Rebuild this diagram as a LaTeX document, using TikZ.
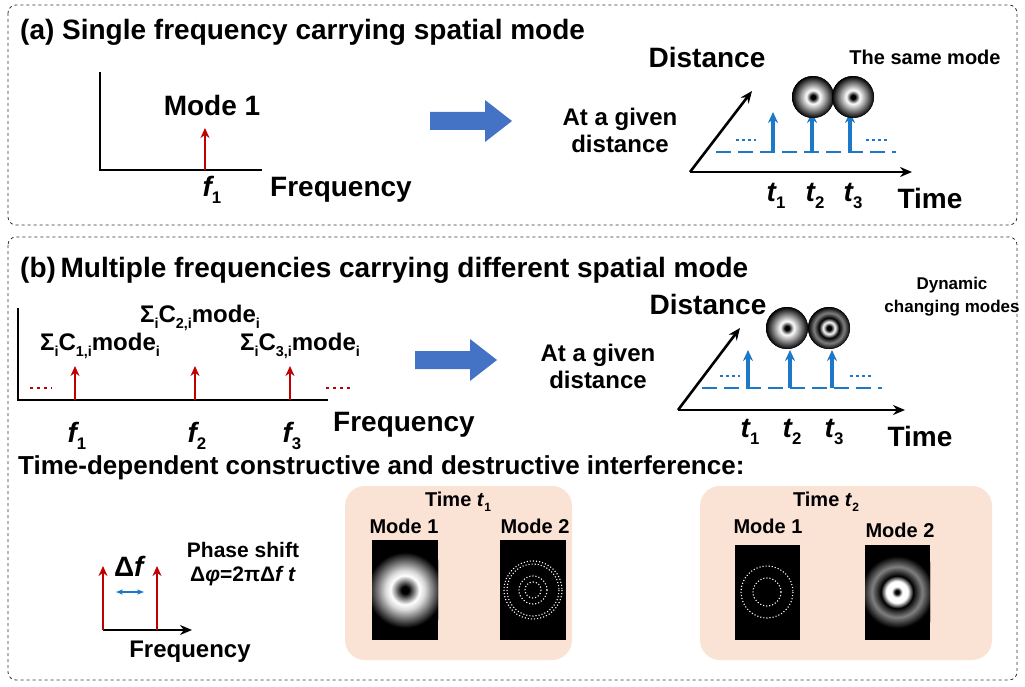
\documentclass[tikz,border=0pt]{standalone}
\usepackage{fontspec}
\setmainfont{Liberation Sans}
\usetikzlibrary{arrows.meta}
\newcommand\sbs[1]{\raisebox{-0.45ex}{\fontsize{0.6em}{0.6em}\selectfont #1}}
\definecolor{aBlue}{RGB}{68,114,196}
\definecolor{tBlue}{RGB}{30,120,200}
\definecolor{aRed}{RGB}{192,0,0}
\definecolor{peach}{RGB}{250,226,212}
\pgfdeclareradialshading{small1}{\pgfpoint{0bp}{0bp}}{color(0bp)=(black);color(2.5bp)=(black);color(8bp)=(white);color(25bp)=(black);color(50bp)=(black)}
\pgfdeclareradialshading{small2}{\pgfpoint{0bp}{0bp}}{color(0bp)=(black);color(2.5bp)=(black);color(7bp)=(white);color(12bp)=(black);color(18bp)=(gray);color(25bp)=(black);color(50bp)=(black)}
\pgfdeclareradialshading{donut}{\pgfpoint{0bp}{0bp}}{color(0bp)=(black);color(2bp)=(black);color(8bp)=(white);color(11bp)=(white!85!black);color(21bp)=(black);color(50bp)=(black)}
\pgfdeclareradialshading{lg}{\pgfpoint{0bp}{0bp}}{color(0bp)=(black);color(1bp)=(black);color(3bp)=(white);color(6bp)=(white);color(9bp)=(black);color(14bp)=(gray);color(20bp)=(black);color(50bp)=(black)}
\begin{document}
\begin{tikzpicture}[x=1pt,y=-1pt,
  txt/.style={font=\bfseries\fontsize{28}{30}\selectfont,inner sep=0pt,align=center},
  mtxt/.style={font=\bfseries\fontsize{24}{27}\selectfont,inner sep=0pt,align=center},
  stxt/.style={font=\bfseries\fontsize{20}{22}\selectfont,inner sep=0pt,align=center},
  frame/.style={draw=black!80,dashed,rounded corners=8pt,line width=0.8pt},
  ax/.style={-{Stealth[length=12pt,width=10pt]},line width=2.6pt},
  redarr/.style={aRed,-{Stealth[length=10pt,width=9pt]},line width=2.6pt},
  bluearr/.style={tBlue,-{Stealth[length=11pt,width=10pt]},line width=3.2pt},
  bigarrow/.style={fill=aBlue,draw=none},
  base/.style={tBlue,dash pattern=on 15pt off 7pt,line width=2.2pt},
  dots/.style={tBlue,line width=2.5pt,dash pattern=on 2.5pt off 3.5pt},
  peachbox/.style={fill=peach,draw=none,rounded corners=20pt},
  ring/.style={white,dotted,line width=1.1pt}]
\useasboundingbox (0,0) rectangle (1025,687);
\draw[frame] (8,5) rectangle (1017,225);
\draw[frame] (8,237) rectangle (1017,680);
% ---- panel a
\node[txt,anchor=west] (ta) at (20,32) {(a)\ Single frequency carrying spatial mode};
\coordinate (ao) at (100,170);
\coordinate (ay) at (100,72);
\coordinate (ax) at (262,170);
\draw[line width=2.4pt] (ay) -- (ao) -- (ax);
\coordinate (f1b) at (205,170);
\coordinate (f1t) at (205,128);
\draw[redarr] (f1b) -- (f1t);
\node[txt] (m1) at (212,105) {Mode 1};
\node[txt] (f1) at (212,190) {\itshape f\sbs{\upshape 1}};
\node[txt,anchor=west] (fq) at (270,190) {Frequency};
\fill[bigarrow] (430,112) -- (485,112) -- (485,100) -- (512,121) -- (485,142) -- (485,130) -- (430,130) -- cycle;
\node[mtxt] (agd) at (620,130) {At a given\\distance};
\coordinate (to) at (690,172);
\coordinate (td) at (752,91);
\coordinate (tt) at (912,172);
\draw[ax] (to) -- (td);
\draw[ax] (to) -- (tt);
\coordinate (bl1) at (716,152); \coordinate (bl2) at (896,152);
\draw[base] (bl1) -- (bl2);
\coordinate (d1a) at (736,140); \coordinate (d1b) at (756,140);
\coordinate (d2a) at (866,140); \coordinate (d2b) at (890,140);
\draw[dots] (d1a) -- (d1b);
\draw[dots] (d2a) -- (d2b);
\foreach \x/\n in {773/1,812/2,850/3}{
  \coordinate (ab\n) at (\x,152); \coordinate (at\n) at (\x,112);
  \draw[bluearr] (ab\n) -- (at\n);
  \node[txt] (tl\n) at (\x+3,196) {\itshape t\sbs{\upshape \n}};}
\foreach \x/\n in {813/1,853/2}{\fill[shading=small1] (\x,97) circle (21);}
\node[txt] (dist) at (707,57) {Distance};
\node[stxt] (same) at (925,57) {The same mode};
\node[txt] (time) at (930,198) {Time};
% ---- panel b
\node[txt,anchor=west] (tb) at (20,270) {(b)\,Multiple frequencies carrying different spatial mode};
\coordinate (bo) at (18,400); \coordinate (by) at (18,308); \coordinate (bx) at (328,400);
\draw[line width=2.4pt] (by) -- (bo) -- (bx);
\foreach \x/\n in {75/1,195/2,290/3}{
  \coordinate (rb\n) at (\x,400); \coordinate (rt\n) at (\x,366);
  \draw[redarr] (rb\n) -- (rt\n);
  \node[txt] (fb\n) at (\x+2,436) {\itshape f\sbs{\upshape \n}};}
\coordinate (rd1a) at (30,388); \coordinate (rd1b) at (52,388);
\coordinate (rd2a) at (326,388); \coordinate (rd2b) at (350,388);
\draw[aRed,line width=2.5pt,dash pattern=on 3pt off 4pt] (rd1a) -- (rd1b);
\draw[aRed,line width=2.5pt,dash pattern=on 3pt off 4pt] (rd2a) -- (rd2b);
\node[mtxt] (c1) at (100,346) {Σ\sbs{i}C\sbs{1,i}mode\sbs{i}};
\node[mtxt] (c2) at (200,318) {Σ\sbs{i}C\sbs{2,i}mode\sbs{i}};
\node[mtxt] (c3) at (300,346) {Σ\sbs{i}C\sbs{3,i}mode\sbs{i}};
\node[txt,anchor=west] (fqb) at (333,425) {Frequency};
\fill[bigarrow] (415,351) -- (470,351) -- (470,339) -- (497,360) -- (470,381) -- (470,369) -- (415,369) -- cycle;
\node[mtxt] (agdb) at (598,366) {At a given\\distance};
\coordinate (uo) at (678,410); \coordinate (ud) at (740,328); \coordinate (ut) at (905,410);
\draw[ax] (uo) -- (ud);
\draw[ax] (uo) -- (ut);
\coordinate (bl3) at (702,388); \coordinate (bl4) at (882,388);
\draw[base] (bl3) -- (bl4);
\coordinate (d3a) at (720,376); \coordinate (d3b) at (740,376);
\coordinate (d4a) at (850,376); \coordinate (d4b) at (872,376);
\draw[dots] (d3a) -- (d3b);
\draw[dots] (d4a) -- (d4b);
\foreach \x/\n in {748/1,790/2,832/3}{
  \coordinate (bb\n) at (\x,388); \coordinate (bt\n) at (\x,350);
  \draw[bluearr] (bb\n) -- (bt\n);
  \node[txt] (ul\n) at (\x+2,432) {\itshape t\sbs{\upshape \n}};}
\fill[shading=small1] (787,328) circle (21);
\fill[shading=small2] (829,328) circle (21);
\node[txt] (distb) at (708,304) {Distance};
\node[stxt,font=\bfseries\fontsize{17}{23}\selectfont] (dyn) at (952,297) {Dynamic\\changing modes};
\node[txt] (timeb) at (920,436) {Time};
\node[txt,anchor=west,font=\bfseries\fontsize{26}{28}\selectfont] (ti) at (18,468) {Time-dependent constructive and destructive interference:};
% small frequency diagram
\coordinate (so) at (103,630); \coordinate (sx) at (192,630);
\draw[ax] (so) -- (sx);
\coordinate (s1t) at (103,566); \coordinate (s2b) at (157,630); \coordinate (s2t) at (157,566);
\draw[redarr] (so) -- (s1t);
\draw[redarr] (s2b) -- (s2t);
\coordinate (da) at (116,592); \coordinate (db) at (144,592);
\draw[tBlue,{Stealth[length=7pt]}-{Stealth[length=7pt]},line width=2.8pt] (da) -- (db);
\node[txt] (df) at (130,566) {Δ\textit{f}};
\node[stxt,font=\bfseries\fontsize{21}{24}\selectfont] (ps) at (243,564) {Phase shift\\Δ\textit{φ}=2πΔ\textit{f t}};
\node[mtxt] (sfq) at (190,652) {Frequency};
% peach boxes
\fill[peachbox] (345,486) rectangle (572,660);
\fill[peachbox] (700,486) rectangle (992,660);
\node[stxt] (t1) at (458,502) {Time \textit{t}\sbs{\upshape 1}};
\node[stxt] (bm1) at (404,526) {Mode 1};
\node[stxt] (bm2) at (535,526) {Mode 2};
\node[stxt] (t2) at (826,502) {Time \textit{t}\sbs{\upshape 2}};
\node[stxt] (cm1) at (768,526) {Mode 1};
\node[stxt] (cm2) at (900,530) {Mode 2};
% images
\fill[black] (372,540) rectangle (438,640);
\begin{scope}
\clip (372,540) rectangle (438,640);
\fill[shading=donut] (405,590) circle (45);
\end{scope}
\fill[black] (500,540) rectangle (566,640);
\draw[ring] (533,590) circle (29);
\draw[ring] (533,590) circle (26);
\draw[ring] (533,590) circle (14);
\draw[ring] (533,590) circle (8);
\fill[black] (735,545) rectangle (800,640);
\draw[ring] (767,592) circle (26);
\draw[ring] (767,592) circle (14);
\fill[black] (865,545) rectangle (930,640);
\begin{scope}
\clip (865,545) rectangle (930,640);
\fill[shading=lg] (897,592) circle (45);
\end{scope}
\end{tikzpicture}
\end{document}
